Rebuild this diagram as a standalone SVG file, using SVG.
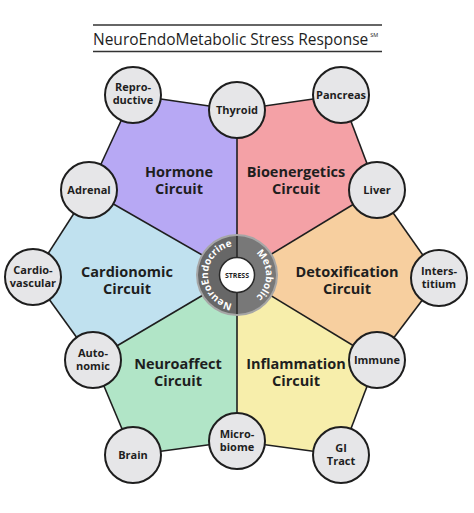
<svg xmlns="http://www.w3.org/2000/svg" width="474" height="513" viewBox="0 0 474 513">
<style>
.bg{fill:#ffffff}
.sec{stroke:none}
.edge{stroke:#1e1e1e;stroke-width:1.6;fill:none}
.node circle{fill:#e6e6e8;stroke:#1e1e1e;stroke-width:2}
.nt{font-family:"Open Sans","Liberation Sans",sans-serif;font-weight:bold;font-size:11px;fill:#1e1e1e;text-anchor:middle}
.ct{font-family:"Open Sans","Liberation Sans",sans-serif;font-weight:bold;font-size:14.5px;fill:#1e1e1e;text-anchor:middle}
.rt{font-family:"Open Sans","Liberation Sans",sans-serif;font-weight:bold;font-size:10px;fill:#ffffff}
.title{font-family:"Open Sans","Liberation Sans",sans-serif;font-size:15.5px;fill:#1e1e1e}
</style>
<defs>
<path id="arcL" d="M237,304 A29,29 0 0 1 237,246"/>
<path id="arcR" d="M237,246 A29,29 0 0 1 237,304"/>
</defs>
<rect class="bg" x="0" y="0" width="474" height="513"/>

<g id="title">
<line x1="93" y1="25" x2="382" y2="25" stroke="#333" stroke-width="1.6"/>
<line x1="93" y1="51.5" x2="382" y2="51.5" stroke="#333" stroke-width="1.6"/>
<text class="title" x="93" y="45">NeuroEndoMetabolic Stress Response<tspan font-size="5.5" dx="2" dy="-8">SM</tspan></text>
</g>

<g id="sectors">
<polygon id="hormone-fill" class="sec" fill="#b7a8f4" points="237,275 237,110 133,95 89,190"/>
<polygon id="bioenergetics-fill" class="sec" fill="#f4a1a6" points="237,275 237,110 341,95 377,190"/>
<polygon id="detox-fill" class="sec" fill="#f7cf9f" points="237,275 377,190 439,278 377,360"/>
<polygon id="inflammation-fill" class="sec" fill="#f7eeab" points="237,275 377,360 341,455 237,441"/>
<polygon id="neuroaffect-fill" class="sec" fill="#b1e5c7" points="237,275 237,441 133,455 93,360"/>
<polygon id="cardionomic-fill" class="sec" fill="#c0e1ef" points="237,275 93,360 33,277 89,190"/>
</g>

<g id="connectors">
<line class="edge" x1="237" y1="110" x2="133" y2="95"/>
<line class="edge" x1="133" y1="95" x2="89" y2="190"/>
<line class="edge" x1="89" y1="190" x2="33" y2="277"/>
<line class="edge" x1="33" y1="277" x2="93" y2="360"/>
<line class="edge" x1="93" y1="360" x2="133" y2="455"/>
<line class="edge" x1="133" y1="455" x2="237" y2="441"/>
<line class="edge" x1="237" y1="441" x2="341" y2="455"/>
<line class="edge" x1="341" y1="455" x2="377" y2="360"/>
<line class="edge" x1="377" y1="360" x2="439" y2="278"/>
<line class="edge" x1="439" y1="278" x2="377" y2="190"/>
<line class="edge" x1="377" y1="190" x2="341" y2="95"/>
<line class="edge" x1="341" y1="95" x2="237" y2="110"/>
<line class="edge" x1="237" y1="275" x2="237" y2="110"/>
<line class="edge" x1="237" y1="275" x2="377" y2="190"/>
<line class="edge" x1="237" y1="275" x2="377" y2="360"/>
<line class="edge" x1="237" y1="275" x2="237" y2="441"/>
<line class="edge" x1="237" y1="275" x2="93" y2="360"/>
<line class="edge" x1="237" y1="275" x2="89" y2="190"/>
</g>

<g id="labels">
<text class="ct" x="179" y="177">Hormone</text><text class="ct" x="179" y="194">Circuit</text>
<text class="ct" x="296" y="177">Bioenergetics</text><text class="ct" x="296" y="194">Circuit</text>
<text class="ct" x="127" y="277">Cardionomic</text><text class="ct" x="127" y="294">Circuit</text>
<text class="ct" x="347" y="277">Detoxification</text><text class="ct" x="347" y="294">Circuit</text>
<text class="ct" x="178" y="369">Neuroaffect</text><text class="ct" x="178" y="386">Circuit</text>
<text class="ct" x="296" y="369">Inflammation</text><text class="ct" x="296" y="386">Circuit</text>
</g>

<g id="hub">
<circle cx="237" cy="275" r="41" fill="#a6a6a6"/>
<path d="M237,236 A39,39 0 0 0 237,314 Z" fill="#676767"/>
<path d="M237,236 A39,39 0 0 1 237,314 Z" fill="#787878"/>
<line x1="237" y1="236" x2="237" y2="314" stroke="#2a2a2a" stroke-width="1.6"/>
<text class="rt"><textPath href="#arcL" startOffset="50%" text-anchor="middle">NeuroEndocrine</textPath></text>
<text class="rt"><textPath href="#arcR" startOffset="50%" text-anchor="middle">Metabolic</textPath></text>
<circle cx="237" cy="275" r="17.5" fill="#ffffff" stroke="#2a2a2a" stroke-width="1.5"/>
<text x="237" y="277.5" font-family="'Open Sans','Liberation Sans',sans-serif" font-weight="bold" font-size="7" fill="#1e1e1e" text-anchor="middle">STRESS</text>
</g>

<g id="node-thyroid" class="node"><circle cx="237" cy="110" r="28"/><text class="nt" x="237" y="114">Thyroid</text></g>
<g id="node-reproductive" class="node"><circle cx="133" cy="95" r="28"/><text class="nt" x="133" y="91">Repro-</text><text class="nt" x="133" y="104">ductive</text></g>
<g id="node-pancreas" class="node"><circle cx="341" cy="95" r="28"/><text class="nt" x="341" y="99">Pancreas</text></g>
<g id="node-adrenal" class="node"><circle cx="89" cy="190" r="28"/><text class="nt" x="89" y="194">Adrenal</text></g>
<g id="node-liver" class="node"><circle cx="377" cy="190" r="28"/><text class="nt" x="377" y="194">Liver</text></g>
<g id="node-cardiovascular" class="node"><circle cx="33" cy="277" r="28"/><text class="nt" x="33" y="274">Cardio-</text><text class="nt" x="33" y="287">vascular</text></g>
<g id="node-interstitium" class="node"><circle cx="439" cy="278" r="28"/><text class="nt" x="439" y="275">Inters-</text><text class="nt" x="439" y="288">titium</text></g>
<g id="node-autonomic" class="node"><circle cx="93" cy="360" r="28"/><text class="nt" x="93" y="357">Auto-</text><text class="nt" x="93" y="370">nomic</text></g>
<g id="node-immune" class="node"><circle cx="377" cy="360" r="28"/><text class="nt" x="377" y="364">Immune</text></g>
<g id="node-brain" class="node"><circle cx="133" cy="455" r="28"/><text class="nt" x="133" y="459">Brain</text></g>
<g id="node-microbiome" class="node"><circle cx="237" cy="441" r="28"/><text class="nt" x="237" y="438">Micro-</text><text class="nt" x="237" y="451">biome</text></g>
<g id="node-gitract" class="node"><circle cx="341" cy="455" r="28"/><text class="nt" x="341" y="452">GI</text><text class="nt" x="341" y="465">Tract</text></g>
</svg>
